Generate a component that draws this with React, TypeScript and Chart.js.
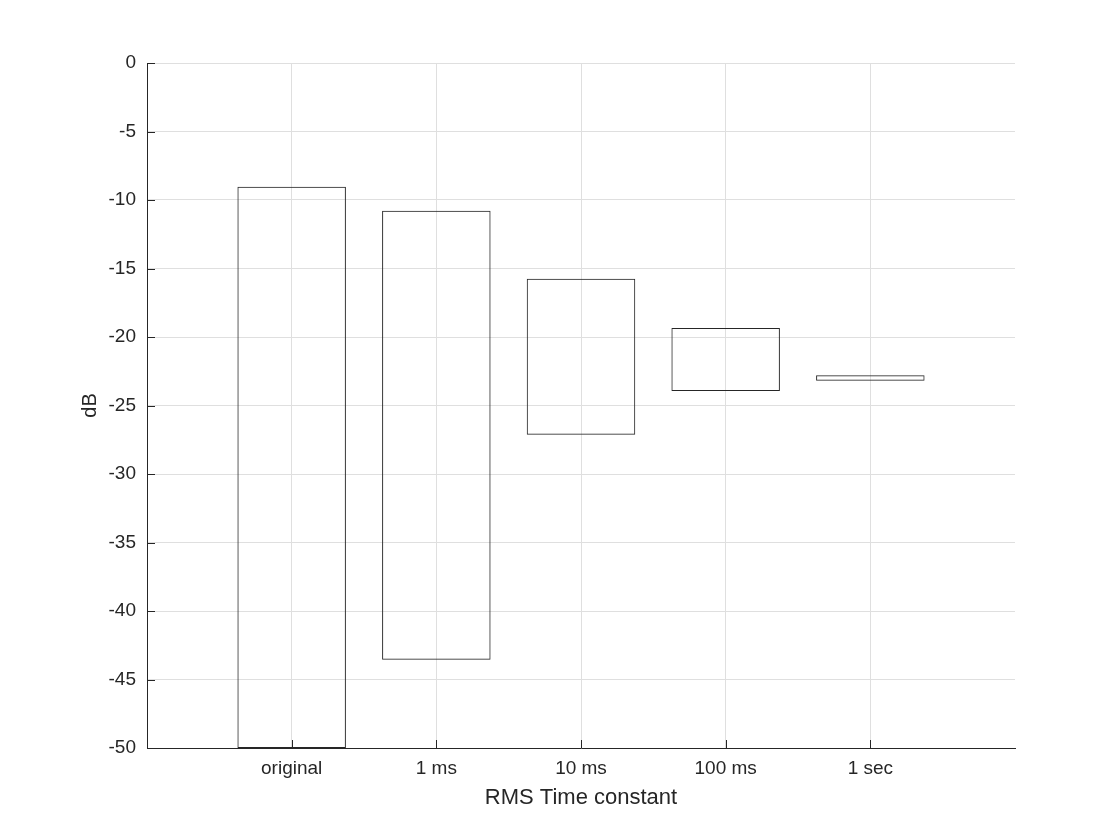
import React, { useEffect, useRef } from 'react';
import { Chart, registerables } from 'chart.js';

Chart.register(...registerables);

// ---- data ----
const categories: string[] = ['original', '1 ms', '10 ms', '100 ms', '1 sec'];
const lowValues: number[] = [-50, -43.55, -27.13, -23.94, -23.19];
const highValues: number[] = [-9.03, -10.78, -15.74, -19.34, -22.8];
const yMin = -50;
const yMax = 0;
const yStep = 5;
const xTitle = 'RMS Time constant';
const yTitle = 'dB';

const AXIS_COLOR = '#262626';
const GRID_COLOR = '#dfdfdf';
const FONT = '"Liberation Sans", Arial, Helvetica, sans-serif';

const inwardTicks = {
  id: 'inwardTicks',
  afterDraw(chart: any) {
    const { ctx, chartArea, scales } = chart;
    const len = 8;
    ctx.save();
    ctx.strokeStyle = AXIS_COLOR;
    ctx.lineWidth = 1;
    ctx.beginPath();
    const y = scales.y;
    y.ticks.forEach((t: any) => {
      const p = Math.round(y.getPixelForValue(t.value)) + 0.5;
      ctx.moveTo(chartArea.left, p);
      ctx.lineTo(chartArea.left + len, p);
    });
    const x = scales.x;
    categories.forEach((_c, i) => {
      const p = Math.round(x.getPixelForValue(i + 1)) + 0.5;
      ctx.moveTo(p, chartArea.bottom);
      ctx.lineTo(p, chartArea.bottom - len);
    });
    ctx.stroke();
    ctx.restore();
  },
};

export default function App() {
  const ref = useRef<HTMLCanvasElement | null>(null);

  useEffect(() => {
    document.body.style.margin = '0';
    const canvas = ref.current;
    if (!canvas) return;
    const labels = ['', ...categories, ''];
    const data = labels.map((_l, i) =>
      i === 0 || i === labels.length - 1 ? null : [lowValues[i - 1], highValues[i - 1]]
    );
    const chart = new Chart(canvas, {
      type: 'bar',
      data: {
        labels,
        datasets: [
          {
            data: data as any,
            backgroundColor: 'rgba(0,0,0,0)',
            borderColor: AXIS_COLOR,
            borderWidth: 1,
            borderSkipped: false,
            barPercentage: 0.75,
            categoryPercentage: 1,
          },
        ],
      },
      options: {
        animation: false,
        responsive: false,
        devicePixelRatio: 1,
        layout: { padding: { top: 63, right: 105, left: 0, bottom: 0 } },
        plugins: { legend: { display: false }, tooltip: { enabled: false } },
        scales: {
          x: {
            type: 'category',
            offset: false,
            grid: {
              offset: false,
              color: (c: any) =>
                c.index === 0 || c.index === labels.length - 1 ? 'rgba(0,0,0,0)' : GRID_COLOR,
              drawTicks: false,
            },
            border: { display: true, color: AXIS_COLOR, width: 1 },
            ticks: {
              color: AXIS_COLOR,
              font: { family: FONT, size: 19 },
              padding: 9,
              autoSkip: false,
              maxRotation: 0,
            },
            title: {
              display: true,
              text: xTitle,
              color: AXIS_COLOR,
              font: { family: FONT, size: 22 },
              padding: { top: 0, bottom: 29 },
            },
            afterFit: (s: any) => {
              s.height = 92;
            },
          },
          y: {
            min: yMin,
            max: yMax,
            grid: { color: GRID_COLOR, drawTicks: false },
            border: { display: true, color: AXIS_COLOR, width: 1 },
            ticks: {
              stepSize: yStep,
              color: AXIS_COLOR,
              font: { family: FONT, size: 19 },
              padding: 11,
            },
            title: {
              display: true,
              text: yTitle,
              color: AXIS_COLOR,
              font: { family: FONT, size: 20 },
              padding: { top: 78, bottom: 0 },
            },
            afterFit: (s: any) => {
              s.width = 147;
            },
          },
        },
      },
      plugins: [inwardTicks],
    });
    return () => chart.destroy();
  }, []);

  return (
    <div style={{ width: 1120, height: 840, background: '#fff' }}>
      <canvas ref={ref} width={1120} height={840} style={{ display: 'block' }} />
    </div>
  );
}
